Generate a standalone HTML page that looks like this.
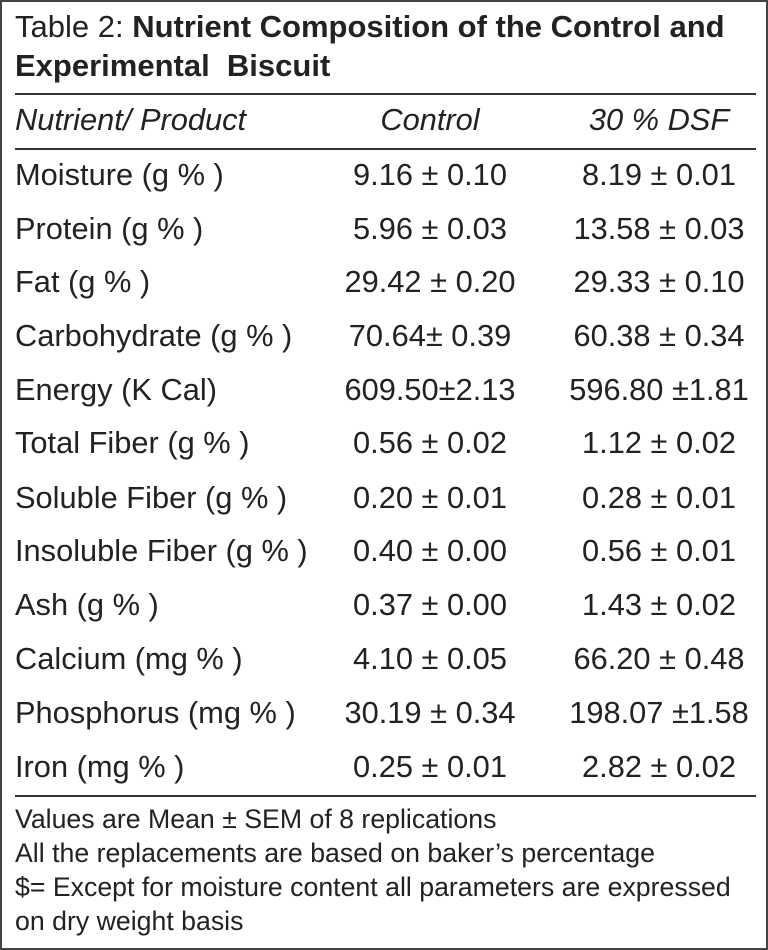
<!DOCTYPE html>
<html><head><meta charset="utf-8"><style>
body{margin:0;background:#fff;}
#c{position:relative;width:764px;height:946px;border:2px solid #444;background:#fff;font-family:"Liberation Sans",Arial,sans-serif;color:#222;overflow:hidden}
.t{position:absolute;white-space:nowrap;font-size:30.8px;line-height:30px}
.l{left:13px}
.c1{left:428px;transform:translateX(-50%)}
.c2{left:657px;transform:translateX(-50%)}
.hr{position:absolute;left:13px;width:741px;height:2px;background:#333}
.f{position:absolute;left:13px;font-size:26.7px;line-height:34px;white-space:nowrap}
</style></head><body><div id="c">
<div class="t l" style="top:10px;font-size:31px">Table 2: <b>Nutrient Composition of the Control and</b></div>
<div class="t l" style="top:49px;font-size:31px"><b>Experimental&nbsp; Biscuit</b></div>
<div class="hr" style="top:91px"></div>
<div class="t l" style="top:103px;font-style:italic">Nutrient/ Product</div>
<div class="t c1" style="top:103px;font-style:italic">Control</div>
<div class="t c2" style="top:103px;font-style:italic">30 % DSF</div>
<div class="hr" style="top:146px"></div>

<div class="t l" style="top:158px">Moisture (g % )</div><div class="t c1" style="top:158px">9.16 ± 0.10</div><div class="t c2" style="top:158px">8.19 ± 0.01</div>
<div class="t l" style="top:212px">Protein (g % )</div><div class="t c1" style="top:212px">5.96 ± 0.03</div><div class="t c2" style="top:212px">13.58 ± 0.03</div>
<div class="t l" style="top:265px">Fat (g % )</div><div class="t c1" style="top:265px">29.42 ± 0.20</div><div class="t c2" style="top:265px">29.33 ± 0.10</div>
<div class="t l" style="top:319px">Carbohydrate (g % )</div><div class="t c1" style="top:319px">70.64± 0.39</div><div class="t c2" style="top:319px">60.38 ± 0.34</div>
<div class="t l" style="top:373px">Energy (K Cal)</div><div class="t c1" style="top:373px">609.50±2.13</div><div class="t c2" style="top:373px">596.80 ±1.81</div>
<div class="t l" style="top:426px">Total Fiber (g % )</div><div class="t c1" style="top:426px">0.56 ± 0.02</div><div class="t c2" style="top:426px">1.12 ± 0.02</div>
<div class="t l" style="top:481px">Soluble Fiber (g % )</div><div class="t c1" style="top:481px">0.20 ± 0.01</div><div class="t c2" style="top:481px">0.28 ± 0.01</div>
<div class="t l" style="top:534px">Insoluble Fiber (g % )</div><div class="t c1" style="top:534px">0.40 ± 0.00</div><div class="t c2" style="top:534px">0.56 ± 0.01</div>
<div class="t l" style="top:588px">Ash (g % )</div><div class="t c1" style="top:588px">0.37 ± 0.00</div><div class="t c2" style="top:588px">1.43 ± 0.02</div>
<div class="t l" style="top:642px">Calcium (mg % )</div><div class="t c1" style="top:642px">4.10 ± 0.05</div><div class="t c2" style="top:642px">66.20 ± 0.48</div>
<div class="t l" style="top:696px">Phosphorus (mg % )</div><div class="t c1" style="top:696px">30.19 ± 0.34</div><div class="t c2" style="top:696px">198.07 ±1.58</div>
<div class="t l" style="top:750px">Iron (mg % )</div><div class="t c1" style="top:750px">0.25 ± 0.01</div><div class="t c2" style="top:750px">2.82 ± 0.02</div>
<div class="hr" style="top:793px"></div>
<div class="f" style="top:800px">Values are Mean ± SEM of 8 replications</div>
<div class="f" style="top:834px">All the replacements are based on baker’s percentage</div>
<div class="f" style="top:868px">$= Except for moisture content all parameters are expressed</div>
<div class="f" style="top:902px">on dry weight basis</div>
</div></body></html>
